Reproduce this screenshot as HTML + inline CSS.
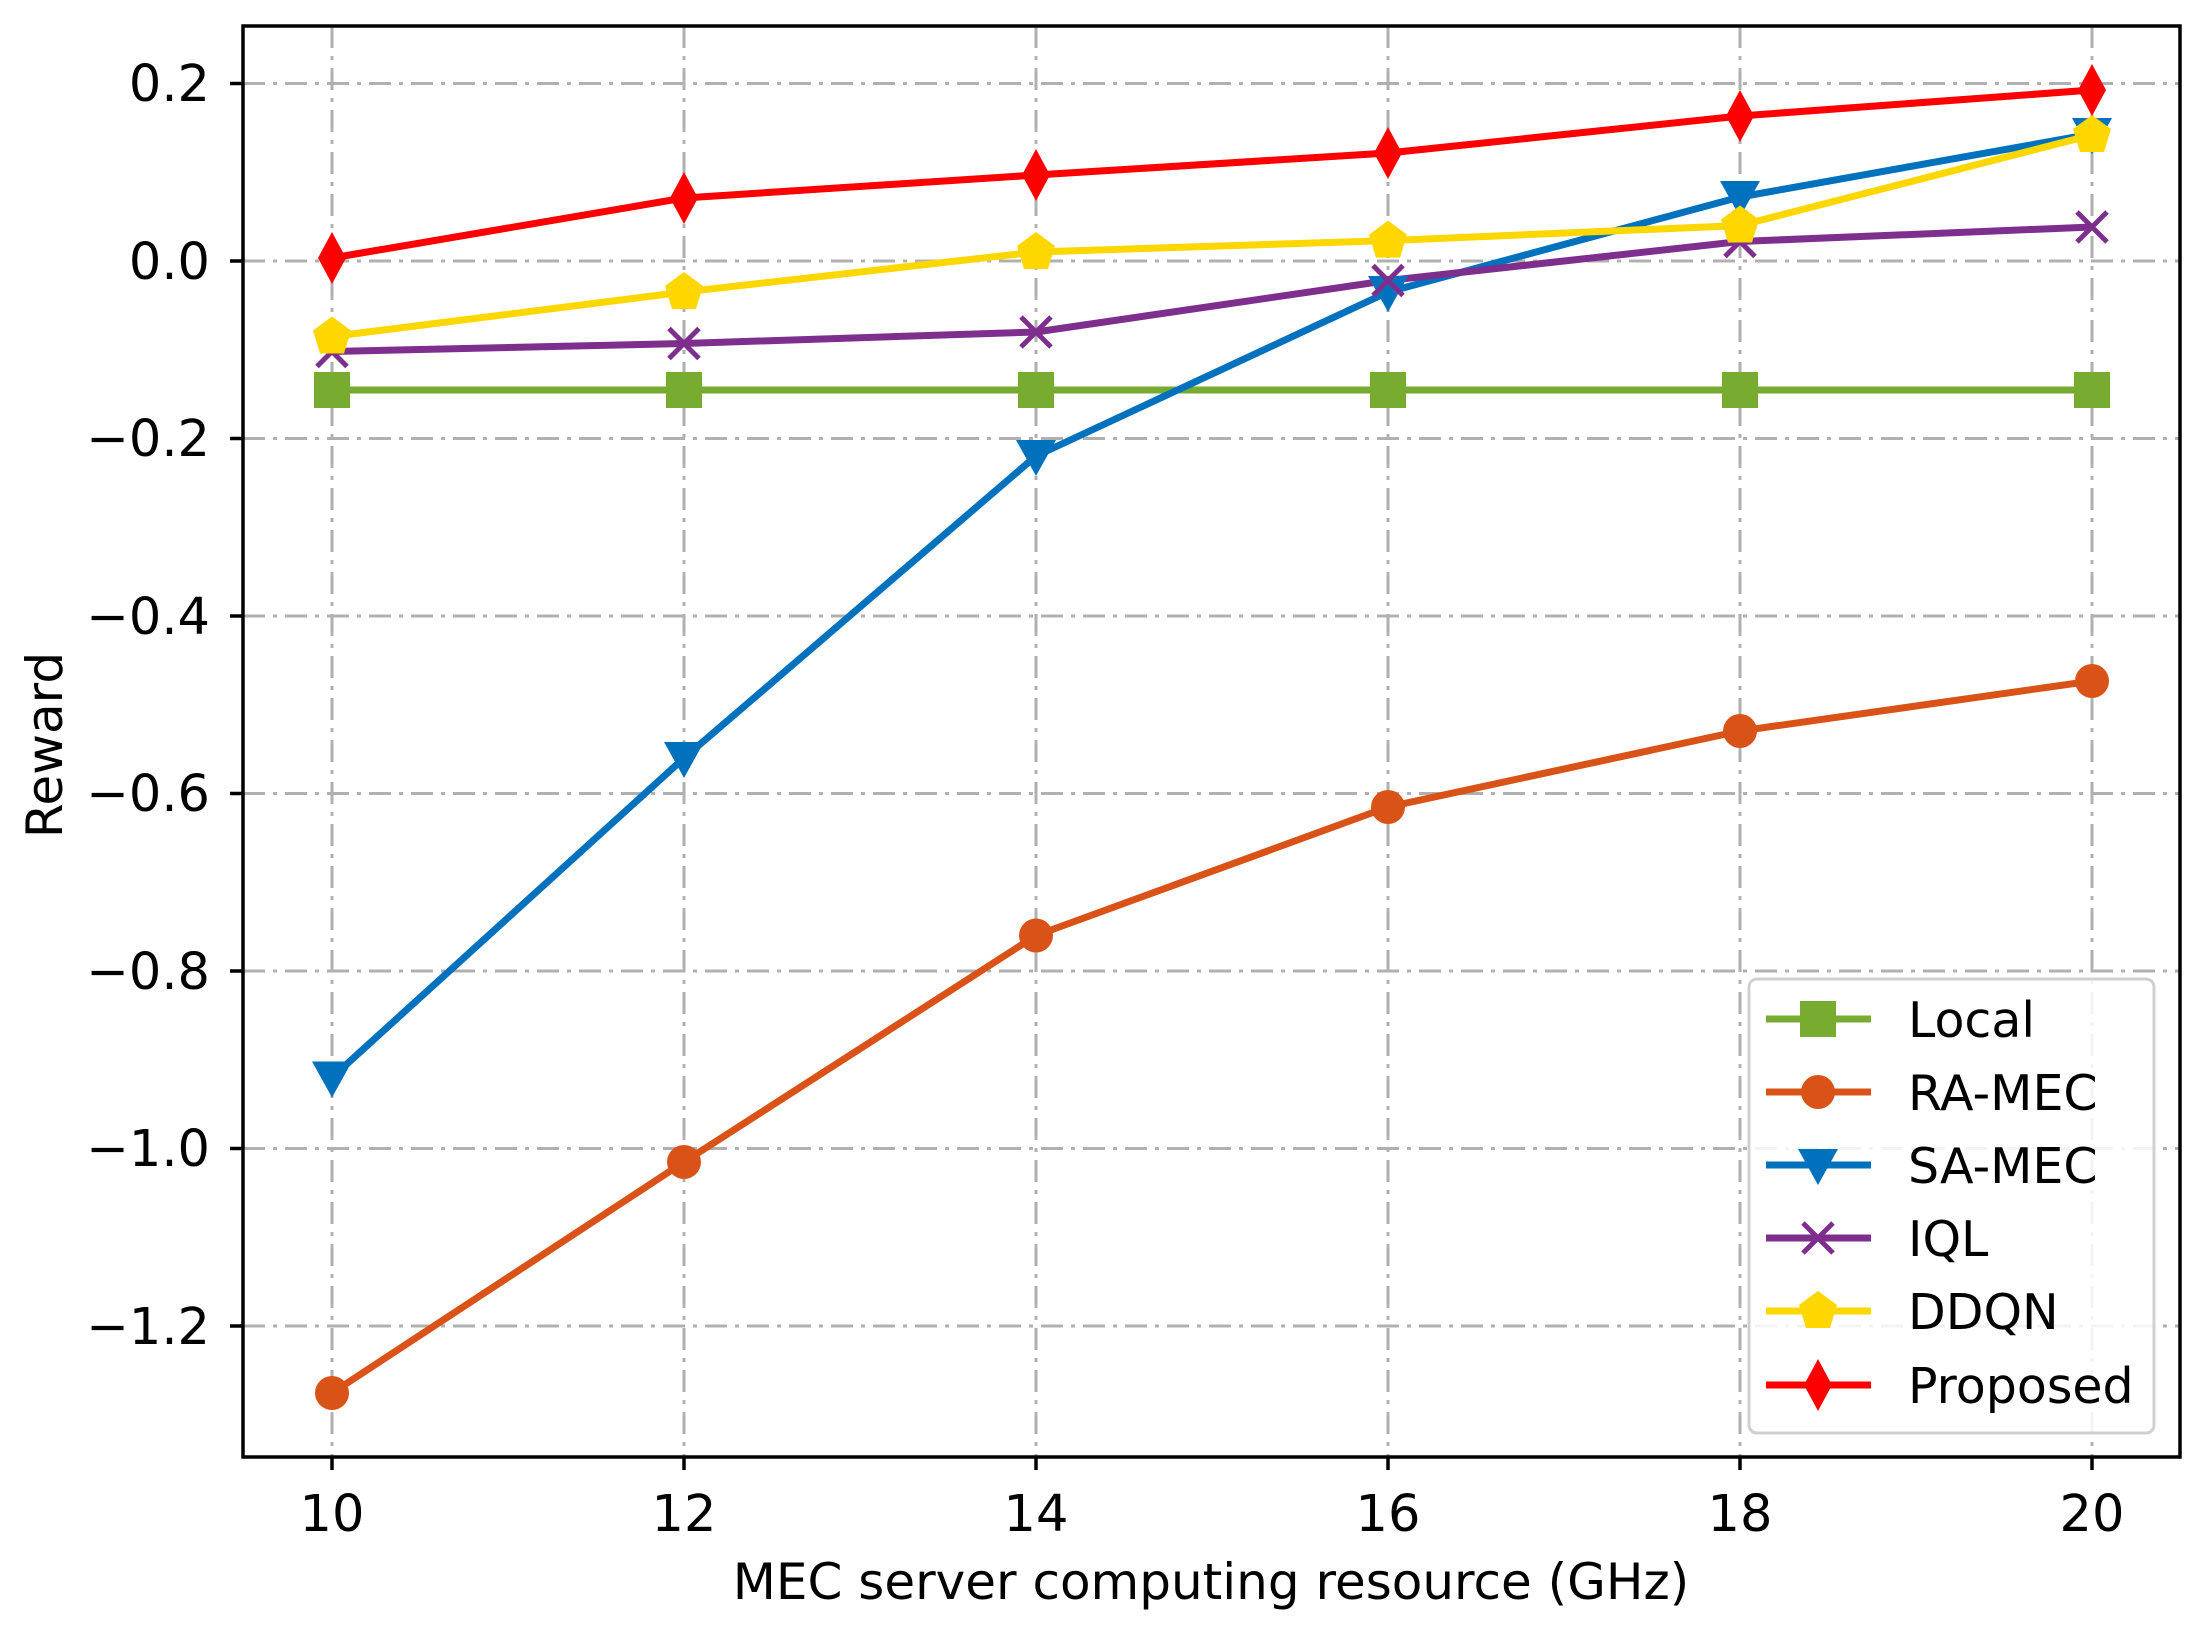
<!DOCTYPE html>
<html><head><meta charset="utf-8"><style>
html,body{margin:0;padding:0;background:#fff}
svg{display:block}
text{font-family:"DejaVu Sans","Liberation Sans",sans-serif;fill:#000}
</style></head><body>
<svg width="2203" height="1632" viewBox="0 0 2203 1632" xmlns="http://www.w3.org/2000/svg">
<defs>
<rect id="sq" x="-18" y="-18" width="36" height="36" fill="#77ac30"/>
<circle id="ci" r="17" fill="#d95319"/>
<path id="tr" d="M-20,-16 L20,-16 L0,20 Z" fill="#0072bd"/>
<path id="xx" d="M-15,-15 L15,15 M-15,15 L15,-15" stroke="#7e2f8e" stroke-width="5" fill="none"/>
<path id="pe" d="M0,-20 L19,-6 L12,17 L-12,17 L-19,-6 Z" fill="#ffd700"/>
<path id="di" d="M0,-26 L14,0 L0,26 L-14,0 Z" fill="#ff0000"/>
</defs>
<rect x="0" y="0" width="2203" height="1632" fill="#fff"/>
<g stroke="#b0b0b0" stroke-width="3" stroke-dasharray="22,8,4,8" fill="none">
<path d="M332,26V1457M684,26V1457M1036,26V1457M1388,26V1457M1740,26V1457M2092,26V1457"/>
<path d="M243,83.5H2180M243,261H2180M243,438.5H2180M243,616H2180M243,793.5H2180M243,971H2180M243,1148.5H2180M243,1326H2180"/>
</g>
<g fill="none" stroke-width="7" stroke-linejoin="round">
<polyline stroke="#77ac30" points="332,390 684,390 1036,390 1388,390 1740,390 2092,390"/>
<polyline stroke="#d95319" points="332,1393 684,1162 1036,935.5 1388,807 1740,731 2092,681"/>
<polyline stroke="#0072bd" points="332,1077.5 684,758 1036,456 1388,292 1740,197 2092,134"/>
<polyline stroke="#7e2f8e" points="332,351.5 684,343.5 1036,332 1388,280.5 1740,241.5 2092,227"/>
<polyline stroke="#ffd700" points="332,336.5 684,292 1036,252 1388,240.6 1740,225.5 2092,135"/>
<polyline stroke="#ff0000" points="332,258 684,198 1036,175 1388,153 1740,116 2092,90"/>
</g>
<g>
<use href="#sq" x="332" y="390"/><use href="#sq" x="684" y="390"/><use href="#sq" x="1036" y="390"/><use href="#sq" x="1388" y="390"/><use href="#sq" x="1740" y="390"/><use href="#sq" x="2092" y="390"/>
<use href="#ci" x="332" y="1393"/><use href="#ci" x="684" y="1162"/><use href="#ci" x="1036" y="935.5"/><use href="#ci" x="1388" y="807"/><use href="#ci" x="1740" y="731"/><use href="#ci" x="2092" y="681"/>
<use href="#tr" x="332" y="1077.5"/><use href="#tr" x="684" y="758"/><use href="#tr" x="1036" y="456"/><use href="#tr" x="1388" y="292"/><use href="#tr" x="1740" y="197"/><use href="#tr" x="2092" y="134"/>
<use href="#xx" x="332" y="351.5"/><use href="#xx" x="684" y="343.5"/><use href="#xx" x="1036" y="332"/><use href="#xx" x="1388" y="280.5"/><use href="#xx" x="1740" y="241.5"/><use href="#xx" x="2092" y="227"/>
<use href="#pe" x="332" y="336.5"/><use href="#pe" x="684" y="292"/><use href="#pe" x="1036" y="252"/><use href="#pe" x="1388" y="240.6"/><use href="#pe" x="1740" y="225.5"/><use href="#pe" x="2092" y="135"/>
<use href="#di" x="332" y="258"/><use href="#di" x="684" y="198"/><use href="#di" x="1036" y="175"/><use href="#di" x="1388" y="153"/><use href="#di" x="1740" y="116"/><use href="#di" x="2092" y="90"/>
</g>
<rect x="243" y="26" width="1937" height="1431" fill="none" stroke="#000" stroke-width="3.5"/>
<g stroke="#000" stroke-width="3.5">
<path d="M332,1457v13M684,1457v13M1036,1457v13M1388,1457v13M1740,1457v13M2092,1457v13"/>
<path d="M243,83.5h-13M243,261h-13M243,438.5h-13M243,616h-13M243,793.5h-13M243,971h-13M243,1148.5h-13M243,1326h-13"/>
</g>
<g font-size="51" text-anchor="end">
<text x="210" y="101">0.2</text>
<text x="210" y="279">0.0</text>
<text x="210" y="456">−0.2</text>
<text x="210" y="634">−0.4</text>
<text x="210" y="811">−0.6</text>
<text x="210" y="989">−0.8</text>
<text x="210" y="1166">−1.0</text>
<text x="210" y="1344">−1.2</text>
</g>
<g font-size="51" text-anchor="middle">
<text x="332" y="1531">10</text>
<text x="684" y="1531">12</text>
<text x="1036" y="1531">14</text>
<text x="1388" y="1531">16</text>
<text x="1740" y="1531">18</text>
<text x="2092" y="1531">20</text>
</g>
<g font-size="50" text-anchor="middle">
<text x="1211" y="1599">MEC server computing resource (GHz)</text>
<text x="0" y="0" transform="translate(62,745) rotate(-90)">Reward</text>
</g>
<rect x="1749" y="979" width="405" height="454" rx="8" fill="#fff" fill-opacity="0.85" stroke="#d0d0d0" stroke-width="3"/>
<g stroke-width="7">
<path d="M1766,1019h105" stroke="#77ac30"/><use href="#sq" x="1818" y="1019"/>
<path d="M1766,1092h105" stroke="#d95319"/><use href="#ci" x="1818" y="1092"/>
<path d="M1766,1165h105" stroke="#0072bd"/><use href="#tr" x="1818" y="1165"/>
<path d="M1766,1238h105" stroke="#7e2f8e"/><use href="#xx" x="1818" y="1238"/>
<path d="M1766,1311h105" stroke="#ffd700"/><use href="#pe" x="1818" y="1311"/>
<path d="M1766,1385h105" stroke="#ff0000"/><use href="#di" x="1818" y="1385"/>
</g>
<g font-size="49">
<text x="1908" y="1037">Local</text>
<text x="1908" y="1110">RA-MEC</text>
<text x="1908" y="1183">SA-MEC</text>
<text x="1908" y="1256">IQL</text>
<text x="1908" y="1329">DDQN</text>
<text x="1908" y="1403">Proposed</text>
</g>
</svg>
</body></html>
